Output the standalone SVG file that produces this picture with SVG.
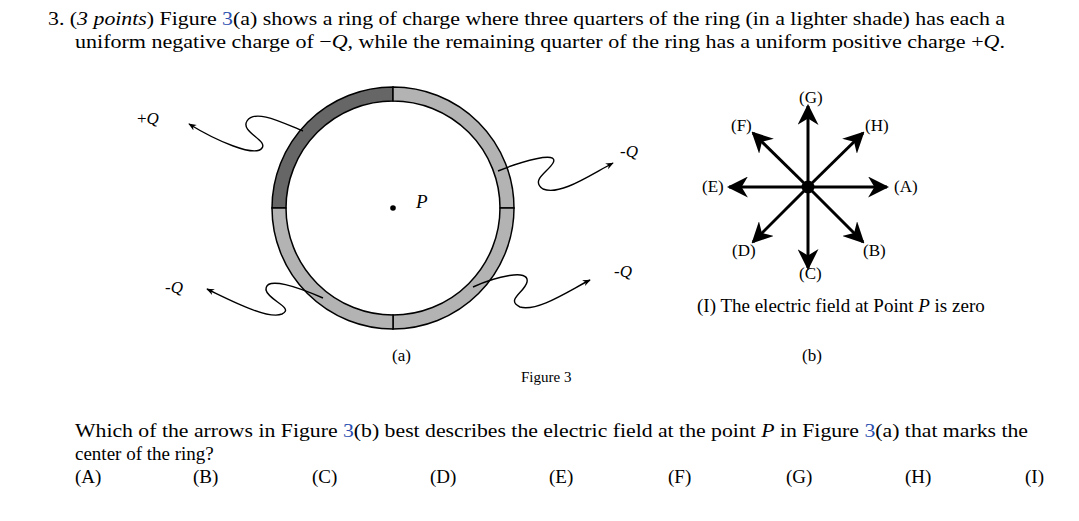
<svg xmlns="http://www.w3.org/2000/svg" width="1079" height="521" viewBox="0 0 1079 521">
<style>
text{font-family:"Liberation Serif","Times New Roman",serif;font-size:19px;fill:#000}
.b{fill:#2b4fb0}
.i{font-style:italic}
.s{font-size:15px}
.w{fill:none;stroke:#000;stroke-width:1.4}
.ar{fill:none;stroke:#000;stroke-width:3}
</style>
<defs>
<marker id="sm" viewBox="0 0 10 10" refX="9" refY="5" markerWidth="8" markerHeight="8" orient="auto" markerUnits="userSpaceOnUse"><path d="M0,1 L10,5 L0,9 L3,5 Z" fill="#000"/></marker>
<marker id="bg" viewBox="0 0 10 10" refX="9" refY="5" markerWidth="7" markerHeight="7" orient="auto"><path d="M0,0 L10,5 L0,10 L3,5 Z" fill="#000"/></marker>
</defs>
<text x="48" y="25" textLength="957" lengthAdjust="spacingAndGlyphs">3. (<tspan class="i">3 points</tspan>) Figure <tspan class="b">3</tspan>(a) shows a ring of charge where three quarters of the ring (in a lighter shade) has each a</text>
<text x="75" y="48" textLength="930" lengthAdjust="spacingAndGlyphs">uniform negative charge of −<tspan class="i">Q</tspan>, while the remaining quarter of the ring has a uniform positive charge +<tspan class="i">Q</tspan>.</text>
<g id="ring">
<path d="M393,208 m-121,0 a121,121 0 0 1 121,-121 v14 a107,107 0 0 0 -107,107 z" fill="#666" stroke="#000" stroke-width="1.5"/>
<path d="M393,87 a121,121 0 0 1 121,121 h-14 a107,107 0 0 0 -107,-107 z" fill="#b3b3b3" stroke="#000" stroke-width="1.5"/>
<path d="M514,208 a121,121 0 0 1 -121,121 v-14 a107,107 0 0 0 107,-107 z" fill="#b3b3b3" stroke="#000" stroke-width="1.5"/>
<path d="M393,329 a121,121 0 0 1 -121,-121 h14 a107,107 0 0 0 107,107 z" fill="#b3b3b3" stroke="#000" stroke-width="1.5"/>
<circle cx="393" cy="208" r="2.8"/>
<text x="416" y="208" class="i">P</text>
</g>
<g id="connectors">
<path class="w" marker-end="url(#sm)" d="M303,131 C285,124 255,108 247,121 C240,132 268,140 262,148 C255,158 215,140 189,124"/>
<path class="w" marker-end="url(#sm)" d="M498,171 C520,162 560,150 553,163 C548,172 530,180 543,189 C560,196 590,175 613,163"/>
<path class="w" marker-end="url(#sm)" d="M473,287 C495,277 530,268 527,282 C525,292 505,300 520,307 C538,312 570,290 590,280"/>
<path class="w" marker-end="url(#sm)" d="M323,298 C300,288 265,275 266,290 C268,300 295,308 282,314 C268,320 230,300 207,289"/>
</g>
<g id="labels">
<text x="137" y="124" class="s" style="font-size:17px">+<tspan class="i">Q</tspan></text>
<text x="620" y="157" style="font-size:17px">-<tspan class="i">Q</tspan></text>
<text x="614" y="277" style="font-size:17px">-<tspan class="i">Q</tspan></text>
<text x="165" y="293" style="font-size:17px">-<tspan class="i">Q</tspan></text>
</g>
<g id="star">
<g class="ar" marker-end="url(#bg)">
<line x1="808" y1="187" x2="887" y2="187"/>
<line x1="808" y1="187" x2="729" y2="187"/>
<line x1="808" y1="187" x2="808" y2="106"/>
<line x1="808" y1="187" x2="808" y2="268"/>
<line x1="808" y1="187" x2="753" y2="133"/>
<line x1="808" y1="187" x2="863" y2="133"/>
<line x1="808" y1="187" x2="753" y2="242"/>
<line x1="808" y1="187" x2="863" y2="242"/>
</g>
<circle cx="808" cy="187" r="6.5"/>
<text x="799" y="103" style="font-size:17px">(G)</text>
<text x="731" y="131" style="font-size:17px">(F)</text>
<text x="865" y="131" style="font-size:17px">(H)</text>
<text x="702" y="192" style="font-size:17px">(E)</text>
<text x="894" y="192" style="font-size:17px">(A)</text>
<text x="732" y="256" style="font-size:17px">(D)</text>
<text x="863" y="256" style="font-size:17px">(B)</text>
<text x="799" y="279" style="font-size:17px">(C)</text>
</g>
<text x="697" y="312">(I) The electric field at Point <tspan class="i">P</tspan> is zero</text>
<text x="392" y="361" style="font-size:17px">(a)</text>
<text x="802" y="361" style="font-size:17px">(b)</text>
<text x="521" y="382" class="s">Figure 3</text>
<text x="75" y="437" textLength="953" lengthAdjust="spacingAndGlyphs">Which of the arrows in Figure <tspan class="b">3</tspan>(b) best describes the electric field at the point <tspan class="i">P</tspan> in Figure <tspan class="b">3</tspan>(a) that marks the</text>
<text x="75" y="460">center of the ring?</text>
<text y="483"><tspan x="75">(A)</tspan><tspan x="193">(B)</tspan><tspan x="312">(C)</tspan><tspan x="430">(D)</tspan><tspan x="549">(E)</tspan><tspan x="668">(F)</tspan><tspan x="786">(G)</tspan><tspan x="905">(H)</tspan><tspan x="1025">(I)</tspan></text>
</svg>
